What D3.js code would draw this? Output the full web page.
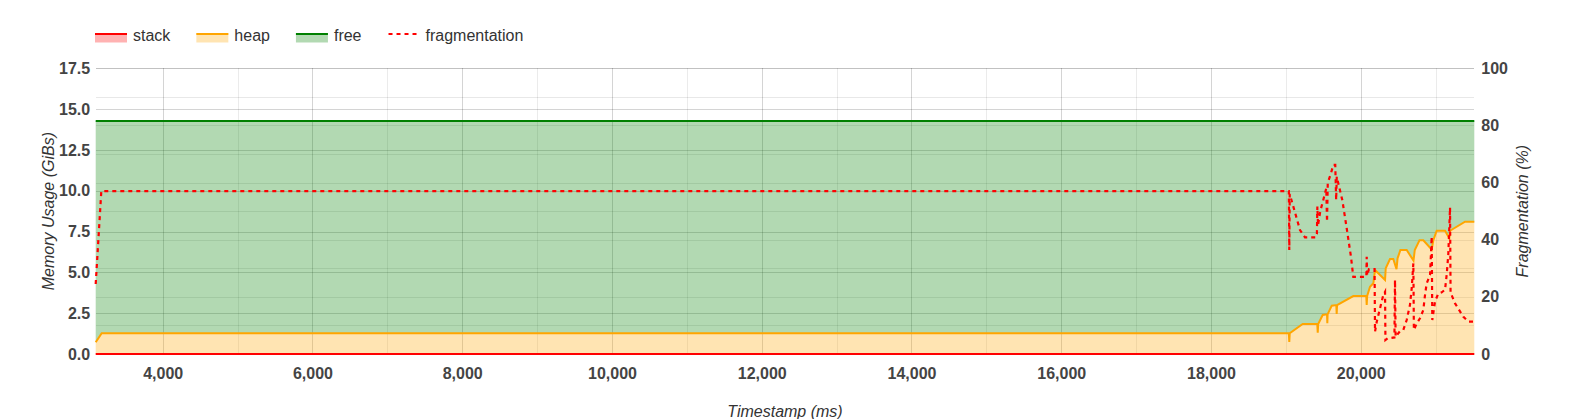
<!DOCTYPE html>
<html>
<head>
<meta charset="utf-8">
<script src="https://cdn.jsdelivr.net/npm/d3@7"></script>
<style>
  body { margin: 0; background: #fff; }
  svg text { font-family: "Liberation Sans", Arial, Helvetica, sans-serif; }
</style>
</head>
<body>
<div id="target"></div>
<script>
// memory samples (ms, GiB)
const memTime = [3105, 3185, 19040, 19046, 19052, 19225, 19420, 19426, 19432, 19492,
  19550, 19554, 19558, 19613, 19674, 19679, 19684, 19901, 20074, 20080,
  20086, 20124, 20169, 20191, 20325, 20334, 20391, 20435, 20478, 20492,
  20530, 20614, 20705, 20722, 20785, 20836, 20948, 20970, 21015, 21126,
  21183, 21193, 21393, 21517];
const stackGiB = [0, 0, 0, 0, 0, 0, 0, 0, 0, 0,
  0, 0, 0, 0, 0, 0, 0, 0, 0, 0,
  0, 0, 0, 0, 0, 0, 0, 0, 0, 0,
  0, 0, 0, 0, 0, 0, 0, 0, 0, 0,
  0, 0, 0, 0];
const heapGiB = [0.72, 1.27, 1.27, 0.74, 1.27, 1.84, 1.84, 1.30, 1.84, 2.39,
  2.43, 1.88, 2.43, 2.96, 3.00, 2.45, 3.00, 3.55, 3.55, 3.00,
  3.55, 4.12, 4.33, 5.15, 4.53, 5.25, 5.82, 5.82, 5.20, 5.86,
  6.37, 6.37, 5.72, 6.37, 6.96, 6.96, 6.40, 6.98, 7.55, 7.55,
  7.09, 7.55, 8.10, 8.10];
const freeGiB = [13.55, 13.00, 13.00, 13.53, 13.00, 12.43, 12.43, 12.97, 12.43, 11.88,
  11.84, 12.39, 11.84, 11.31, 11.27, 11.82, 11.27, 10.72, 10.72, 11.27,
  10.72, 10.15, 9.94, 9.12, 9.74, 9.02, 8.45, 8.45, 9.07, 8.41,
  7.90, 7.90, 8.55, 7.90, 7.31, 7.31, 7.87, 7.29, 6.72, 6.72,
  7.18, 6.72, 6.17, 6.17];

// fragmentation samples (ms, %)
const fragTime = [3105, 3180, 19040, 19046, 19052, 19113, 19189, 19256, 19399, 19415,
  19421, 19430, 19460, 19500, 19540, 19550, 19560, 19600, 19634, 19660,
  19672, 19680, 19754, 19813, 19870, 19901, 20075, 20080, 20086, 20110,
  20185, 20191, 20214, 20258, 20302, 20325, 20330, 20361, 20450, 20458,
  20466, 20525, 20569, 20614, 20658, 20681, 20703, 20710, 20748, 20792,
  20836, 20859, 20881, 20926, 20948, 20956, 20992, 21036, 21082, 21126,
  21149, 21170, 21193, 21200, 21260, 21371, 21440, 21517];
const fragPct = [24.5, 57.0, 57.0, 36.4, 56.0, 50.4, 43.4, 40.8, 40.8, 42.0,
  51.6, 45.0, 50.0, 53.9, 58.0, 46.3, 60.0, 63.0, 66.2, 66.2,
  53.9, 62.0, 53.9, 44.0, 34.0, 27.0, 27.0, 34.0, 27.5, 29.7,
  29.7, 7.8, 11.3, 16.0, 20.7, 21.8, 4.9, 5.5, 5.8, 25.9,
  6.0, 8.0, 8.4, 11.9, 17.2, 23.0, 31.7, 8.4, 10.7, 12.5,
  15.4, 20.7, 24.7, 27.7, 41.1, 11.9, 18.3, 21.2, 21.6, 22.5,
  28.0, 35.0, 51.3, 21.5, 17.7, 13.0, 11.3, 11.3];

const xLabelTicks = [4000, 6000, 8000, 10000, 12000, 14000, 16000, 18000, 20000];
const xGridTicks = [4000, 5000, 6000, 7000, 8000, 9000, 10000, 11000, 12000, 13000,
  14000, 15000, 16000, 17000, 18000, 19000, 20000, 21000];
const memTicks = [0, 2.5, 5, 7.5, 10, 12.5, 15, 17.5];
const fragTicks = [0, 20, 40, 60, 80, 100];
const fragGridTicks = [0, 10, 20, 30, 40, 50, 60, 70, 80, 90, 100];
const seriesNames = ['stack', 'heap', 'free', 'fragmentation'];

const width = 1583;
const height = 419;
const margin = { top: 68.3, right: 108.7, bottom: 65, left: 95.7 };
const plotW = width - margin.left - margin.right;
const plotH = height - margin.top - margin.bottom;

const colors = { stack: '#ff0000', heap: '#ffa500', free: '#008000', fragmentation: '#ff0000' };
const fills = {
  stack: 'rgba(255,0,0,0.3)',
  heap: 'rgba(255,165,0,0.3)',
  free: 'rgba(0,128,0,0.3)',
};

const svg = d3.select('#target').append('svg').attr('width', width).attr('height', height);
const g = svg.append('g').attr('transform', `translate(${margin.left},${margin.top})`);

const x = d3.scaleLinear().domain([3105, 21517]).range([0, plotW]);
const yMem = d3.scaleLinear().domain([0, 17.5]).range([plotH, 0]);
const yFrag = d3.scaleLinear().domain([0, 100]).range([plotH, 0]);

// grid
const gridX = g
  .append('g')
  .attr('transform', `translate(0,${plotH})`)
  .call(d3.axisBottom(x).tickValues(xGridTicks).tickSize(-plotH).tickFormat(''));
gridX.select('.domain').remove();
gridX
  .selectAll('line')
  .attr('stroke', (d) => (d % 2000 === 0 ? 'rgba(0,0,0,0.17)' : 'rgba(0,0,0,0.08)'))
  .attr('shape-rendering', 'crispEdges');

const gridFrag = g.append('g').call(d3.axisRight(yFrag).tickValues(fragGridTicks).tickSize(plotW).tickFormat(''));
gridFrag.select('.domain').remove();
gridFrag.selectAll('line').attr('stroke', 'rgba(0,0,0,0.09)').attr('shape-rendering', 'crispEdges');

const gridMem = g.append('g').call(d3.axisRight(yMem).tickValues(memTicks).tickSize(plotW).tickFormat(''));
gridMem.select('.domain').remove();
gridMem.selectAll('line').attr('stroke', 'rgba(0,0,0,0.17)').attr('shape-rendering', 'crispEdges');

// stacked memory
const rows = memTime.map((t, i) => ({ t: t, stack: stackGiB[i], heap: heapGiB[i], free: freeGiB[i] }));
const layers = d3.stack().keys(['stack', 'heap', 'free'])(rows);

const area = d3
  .area()
  .x((d) => x(d.data.t))
  .y0((d) => yMem(d[0]))
  .y1((d) => yMem(d[1]));

const line = d3
  .line()
  .x((d) => x(d.data.t))
  .y((d) => yMem(d[1]));

g.selectAll('.area')
  .data(layers)
  .enter()
  .append('path')
  .attr('class', 'area')
  .attr('d', area)
  .attr('fill', (d) => fills[d.key]);

g.selectAll('.mem-line')
  .data(layers.slice().reverse())
  .enter()
  .append('path')
  .attr('class', 'mem-line')
  .attr('d', line)
  .attr('fill', 'none')
  .attr('stroke', (d) => colors[d.key])
  .attr('stroke-width', 2);

// fragmentation
const fragLine = d3
  .line()
  .x((d, i) => x(fragTime[i]))
  .y((d) => yFrag(d));

g.append('path')
  .datum(fragPct)
  .attr('d', fragLine)
  .attr('fill', 'none')
  .attr('stroke', colors.fragmentation)
  .attr('stroke-width', 2.2)
  .attr('stroke-dasharray', '4,4');

// axes
const tickColor = '#444';

const xAxis = g
  .append('g')
  .attr('transform', `translate(0,${plotH})`)
  .call(d3.axisBottom(x).tickValues(xLabelTicks).tickSize(0).tickPadding(14).tickFormat(d3.format(',')));
xAxis.select('.domain').remove();

const yAxisLeft = g
  .append('g')
  .call(d3.axisLeft(yMem).tickValues(memTicks).tickSize(0).tickPadding(5.5).tickFormat(d3.format('.1f')));
yAxisLeft.select('.domain').remove();

const yAxisRight = g
  .append('g')
  .attr('transform', `translate(${plotW},0)`)
  .call(d3.axisRight(yFrag).tickValues(fragTicks).tickSize(0).tickPadding(7).tickFormat(d3.format('d')));
yAxisRight.select('.domain').remove();

svg
  .selectAll('.tick text')
  .attr('fill', tickColor)
  .style('font-size', '16px')
  .style('font-weight', 'bold')
  .style('font-family', '"Liberation Sans", Arial, sans-serif');

// axis titles
svg
  .append('text')
  .attr('x', margin.left + plotW / 2)
  .attr('y', 417)
  .attr('text-anchor', 'middle')
  .attr('fill', '#333')
  .style('font-size', '16px')
  .style('font-style', 'italic')
  .text('Timestamp (ms)');

svg
  .append('text')
  .attr('transform', `translate(54,${margin.top + plotH / 2}) rotate(-90)`)
  .attr('text-anchor', 'middle')
  .attr('fill', '#333')
  .style('font-size', '16px')
  .style('font-style', 'italic')
  .text('Memory Usage (GiBs)');

svg
  .append('text')
  .attr('transform', `translate(1527.5,${margin.top + plotH / 2}) rotate(-90)`)
  .attr('text-anchor', 'middle')
  .attr('fill', '#333')
  .style('font-size', '16px')
  .style('font-style', 'italic')
  .text('Fragmentation (%)');

// legend
const legend = svg.append('g');
let lx = 95;
seriesNames.forEach((name) => {
  const item = legend.append('g').attr('transform', `translate(${lx},0)`);
  if (name === 'fragmentation') {
    item
      .append('line')
      .attr('x1', 0)
      .attr('x2', 32)
      .attr('y1', 34)
      .attr('y2', 34)
      .attr('stroke', colors[name])
      .attr('stroke-width', 2)
      .attr('stroke-dasharray', '4,4')
      .attr('stroke-dashoffset', -1);
  } else {
    item.append('rect').attr('x', 0).attr('y', 33).attr('width', 32).attr('height', 9.5).attr('fill', fills[name]);
    item
      .append('line')
      .attr('x1', 0)
      .attr('x2', 32)
      .attr('y1', 34)
      .attr('y2', 34)
      .attr('stroke', colors[name])
      .attr('stroke-width', 2);
  }
  const txt = item
    .append('text')
    .attr('x', 38)
    .attr('y', 40.5)
    .attr('fill', '#333')
    .style('font-size', '16px')
    .text(name);
  lx += 38 + txt.node().getComputedTextLength() + 26;
});
</script>
</body>
</html>
